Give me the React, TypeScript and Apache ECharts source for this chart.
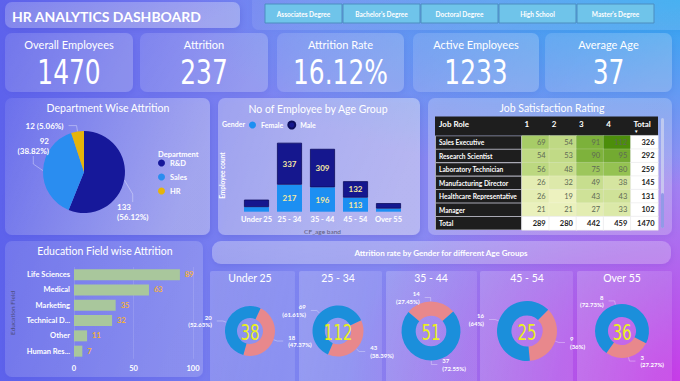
import React, { useEffect, useRef } from 'react';
import * as echarts from 'echarts';

// ---------- data ----------
const kpiLabels = ['Overall Employees', 'Attrition', 'Attrition Rate', 'Active Employees', 'Average Age'];
const kpiValues = ['1470', '237', '16.12%', '1233', '37'];
const degreeButtons = ['Associates Degree', "Bachelor's Degree", 'Doctoral Degree', 'High School', "Master's Degree"];

const departments = ['R&D', 'Sales', 'HR'];
const deptAttrition = [133, 92, 12];

const ageBands = ['Under 25', '25 - 34', '35 - 44', '45 - 54', 'Over 55'];
const femaleCounts = [37, 217, 196, 113, 25];
const maleCounts = [60, 337, 309, 132, 44];

const jobRoles = ['Sales Executive', 'Research Scientist', 'Laboratory Technician', 'Manufacturing Director', 'Healthcare Representative', 'Manager'];
const ratingLevels = ['1', '2', '3', '4'];
const satisfactionByRole = [
  [69, 54, 91, 112],
  [54, 53, 90, 95],
  [56, 48, 75, 80],
  [26, 32, 49, 38],
  [26, 19, 43, 43],
  [21, 21, 27, 33],
];
const roleTotals = [326, 292, 259, 145, 131, 102];
const ratingTotals = [289, 280, 442, 459];
const grandTotal = 1470;

const eduFields = ['Life Sciences', 'Medical', 'Marketing', 'Technical Degree', 'Other', 'Human Resources'];
const eduAttrition = [89, 63, 35, 32, 11, 7];

const maleAttrition = [20, 69, 37, 16, 8];
const femaleAttrition = [18, 43, 14, 9, 3];
const donutTotals = ['38', '112', '51', '25', '36'];

// ---------- style / layout ----------
const FONT = "Lato, 'Noto Sans', sans-serif";
const NUM = "'Liberation Sans Narrow', 'DejaVu Sans Condensed', 'Roboto Condensed', Roboto, sans-serif";
const BG =
  'radial-gradient(110% 75% at 100% 0%, rgba(44,168,242,1) 0%, rgba(44,168,242,0) 65%),' +
  'radial-gradient(70% 85% at 100% 100%, rgba(200,60,232,1) 0%, rgba(200,60,232,0) 70%),' +
  'linear-gradient(90deg, #5d62ec 0%, #8188f3 45%, #9c8cf4 100%)';

const kpiX = [5, 140, 277, 413, 545];
const kpiW = [128, 128, 127, 126, 127];
const donutCx = [250, 338, 431, 527, 622];
const donutR = [25, 25.5, 29.5, 30, 27];
const donutStart = [65, 25, 140, 45, -27];
const cardX = [210, 299, 386, 480, 577];
const cardW = [85, 83, 91, 93, 95];

function panelFill(a1: number, a2: number) {
  return {
    type: 'linear', x: 0, y: 0, x2: 1, y2: 0.3,
    colorStops: [
      { offset: 0, color: `rgba(255,255,255,${a1})` },
      { offset: 1, color: `rgba(255,255,255,${a2})` },
    ],
  };
}
const shadow = { shadowBlur: 6, shadowColor: 'rgba(40,20,120,0.35)', shadowOffsetX: 1, shadowOffsetY: 2 };

function rect(x: number, y: number, w: number, h: number, fill: any, r = 7, extra: any = {}) {
  return { type: 'rect', shape: { x, y, width: w, height: h, r }, style: { fill, ...shadow, ...extra }, silent: true };
}
function text(x: number, y: number, t: string, size: number, color = '#fff', weight: any = 'normal', align = 'center', family = FONT) {
  return {
    type: 'text', x, y, silent: true,
    style: { text: t, fill: color, fontSize: size, fontWeight: weight, fontFamily: family, align, verticalAlign: 'middle' },
  };
}

export default function App() {
  const ref = useRef<HTMLDivElement>(null);
  useEffect(() => {
    const chart = echarts.init(ref.current!, undefined, { renderer: 'svg', width: 680, height: 381 });

    const graphics: any[] = [];
    // title & slicer
    graphics.push(rect(5, 2, 235, 26, panelFill(0.2, 0.3)));
    graphics.push(text(12, 16, 'HR ANALYTICS DASHBOARD', 14, '#fff', 'bold', 'left'));
    graphics.push(rect(252, -8, 440, 38, panelFill(0.06, 0.12)));
    degreeButtons.forEach((b, i) => {
      graphics.push({
        type: 'rect', silent: true,
        shape: { x: 265 + i * 78, y: 4, width: 77, height: 19, r: 0 },
        style: { fill: '#6fc4ea', stroke: '#4c8dc0', lineWidth: 1 },
      });
      graphics.push(text(265 + i * 78 + 38.5, 14, b, 6.5, '#fff', 'bold'));
    });
    // KPI cards
    kpiLabels.forEach((l, i) => {
      graphics.push(rect(kpiX[i], 33, kpiW[i], 59, panelFill(0.12, 0.2)));
      graphics.push(text(kpiX[i] + kpiW[i] / 2, 44, l, 11));
      graphics.push({ ...text(kpiX[i] + kpiW[i] / 2, 73, kpiValues[i], 33, '#fff', 'normal', 'center', NUM), scaleX: 0.84 });
    });
    // middle panels
    graphics.push(rect(5, 98, 205, 137, panelFill(0.08, 0.32)));
    graphics.push(text(108, 108, 'Department Wise Attrition', 10.5));
    graphics.push(text(158, 154, 'Department', 7.5, '#fff', 'bold', 'left'));
    graphics.push(rect(218, 98, 202, 137, panelFill(0.28, 0.38)));
    graphics.push(text(318, 109, 'No of Employee by Age Group', 10.5));
    graphics.push(text(222, 124, 'Gender', 7, '#fff', 'bold', 'left'));
    graphics.push(rect(428, 98, 244, 137, panelFill(0.22, 0.2)));
    graphics.push(text(552, 108, 'Job Satisfaction Rating', 10.5));
    graphics.push({ type: 'rect', silent: true, shape: { x: 435, y: 116.5, width: 223, height: 19.2 }, style: { fill: '#1e1e1e' } });
    graphics.push({ type: 'rect', silent: true, shape: { x: 435, y: 135.7, width: 87, height: 94.3 }, style: { fill: '#a9a9b4' } });
    graphics.push(text(439, 124, 'Job Role', 8, '#fff', 'bold', 'left'));
    graphics.push(text(634, 131.5, '▼', 4.5, '#fff', 'normal', 'left'));
    graphics.push({ type: 'rect', silent: true, shape: { x: 661, y: 118, width: 3, height: 110, r: 1.5 }, style: { fill: 'rgba(210,215,240,0.7)' } });
    graphics.push({ type: 'rect', silent: true, shape: { x: 661, y: 193, width: 3, height: 35, r: 1.5 }, style: { fill: 'rgba(140,150,230,0.9)' } });
    // bottom panels
    graphics.push(rect(5, 241, 198, 136, panelFill(0.12, 0.16)));
    graphics.push(text(105, 251, 'Education Field wise Attrition', 10.5));
    graphics.push(rect(212, 241, 459, 23, panelFill(0.3, 0.22), 9));
    graphics.push(text(441, 252.5, 'Attrition rate by Gender for different Age Groups', 8, '#fff', 'bold'));
    ageBands.forEach((a, i) => {
      graphics.push(rect(cardX[i], 271, cardW[i], 120, panelFill(0.18, 0.1), 2));
      graphics.push(text(donutCx[i], 277.5, a, 10.5));
    });
    donutTotals.forEach((t, i) => {
      graphics.push({ ...text(donutCx[i], 332, t, 21, '#e9f01e', 'normal', 'center', NUM), z: 100, scaleX: 0.8 });
    });

    const heatCells: any[] = [];
    satisfactionByRole.forEach((row, r) => row.forEach((v, c) => heatCells.push([c, r, v])));
    const totalCells: any[] = [];
    roleTotals.forEach((v, r) => totalCells.push([4, r, v]));
    ratingTotals.forEach((v, c) => totalCells.push([c, jobRoles.length, v]));
    totalCells.push([4, jobRoles.length, grandTotal]);

    const donutSeries = ageBands.map((a, i) => ({
      type: 'pie',
      name: a,
      center: [donutCx[i], 331],
      radius: [donutR[i] * 0.52, donutR[i]],
      startAngle: donutStart[i],
      clockwise: true,
      avoidLabelOverlap: true,
      data: [
        { name: 'Female attrition', value: femaleAttrition[i], itemStyle: { color: '#e8888c' } },
        { name: 'Male attrition', value: maleAttrition[i], itemStyle: { color: '#1b8fdb' } },
      ],
      label: {
        show: true, formatter: '{c}\n({d}%)', color: '#fff', fontSize: 6, lineHeight: 7.5,
        fontFamily: FONT, fontWeight: 'bold', overflow: 'none',
      },
      labelLine: { show: true, length: 4, length2: 6, lineStyle: { color: 'rgba(255,255,255,0.55)', width: 0.6 } },
      emphasis: { disabled: true },
    }));

    const option: any = {
      animation: false,
      backgroundColor: 'transparent',
      textStyle: { fontFamily: FONT },
      graphic: { elements: graphics },
      legend: [
        {
          data: departments, orient: 'vertical', left: 158, top: 159, itemGap: 6, padding: 0,
          icon: 'circle', itemWidth: 7, itemHeight: 7,
          textStyle: { color: '#fff', fontSize: 7.5, fontWeight: 'bold', fontFamily: FONT },
        },
        {
          data: ['Female', 'Male'], left: 249, top: 120.5, itemGap: 4, padding: 0,
          icon: 'circle', itemWidth: 7, itemHeight: 7,
          textStyle: { color: '#fff', fontSize: 7, fontWeight: 'bold', fontFamily: FONT },
        },
      ],
      visualMap: [
        {
          show: false, seriesIndex: 3, dimension: 2, min: 19, max: 112,
          inRange: { color: ['#edf2bf', '#c6dd8c', '#93c150', '#4c8e0b'] },
        },
        {
          show: false, seriesIndex: 4, dimension: 2, min: 0, max: 2000,
          inRange: { color: ['#ffffff', '#ffffff'] },
        },
      ],
      grid: [
        { left: 240, width: 165, top: 139.5, height: 72.2 },
        { left: 522, width: 136, top: 135.7, height: 94.3 },
        { left: 74, width: 119, top: 267, height: 91.8 },
      ],
      xAxis: [
        {
          gridIndex: 0, type: 'category', data: ageBands,
          axisLine: { show: false }, axisTick: { show: false },
          axisLabel: { color: '#fff', fontSize: 7.5, fontWeight: 'bold', margin: 4, interval: 0 },
          name: 'CF_age band', nameLocation: 'middle', nameGap: 16,
          nameTextStyle: { color: '#5a5a7a', fontSize: 6.5 },
        },
        {
          gridIndex: 1, type: 'category', data: [...ratingLevels, 'Total'], position: 'top',
          axisLine: { show: false }, axisTick: { show: false }, splitLine: { show: false },
          axisLabel: {
            interval: 0, margin: 8, formatter: '{h|{value}}',
            rich: { h: { width: 22, align: 'left', color: '#fff', fontWeight: 'bold', fontSize: 8, fontFamily: FONT } },
          },
        },
        {
          gridIndex: 2, type: 'value', min: 0, max: 100, interval: 50,
          axisLine: { show: false }, axisTick: { show: false },
          splitLine: { show: true, lineStyle: { color: 'rgba(255,255,255,0.12)' } },
          axisLabel: { color: '#fff', fontSize: 7.5, fontWeight: 'bold', margin: 6 },
        },
      ],
      yAxis: [
        {
          gridIndex: 0, type: 'value', min: 0, max: 580,
          axisLabel: { show: false }, splitLine: { show: false }, axisLine: { show: false }, axisTick: { show: false },
          name: 'Employee count', nameLocation: 'middle', nameGap: 14, nameRotate: 90,
          nameTextStyle: { color: '#fff', fontSize: 6.5, fontWeight: 'bold' },
        },
        {
          gridIndex: 1, type: 'category', data: [...jobRoles, 'Total'], inverse: true,
          axisLine: { show: false }, axisTick: { show: false }, splitLine: { show: false },
          axisLabel: {
            interval: 0, align: 'left', margin: 86, color: '#fff', fontWeight: 'bold', fontSize: 6.6, fontFamily: FONT,
            backgroundColor: '#1e1e1e', width: 82, height: 12.4, lineHeight: 12.4, padding: [0, 0, 0, 3],
          },
        },
        {
          gridIndex: 2, type: 'category', data: eduFields, inverse: true,
          axisLine: { show: false }, axisTick: { show: false },
          axisLabel: { interval: 0, color: '#fff', fontSize: 7.5, fontWeight: 'bold', margin: 4, width: 47, overflow: 'truncate', ellipsis: '...' },
          name: 'Education Field', nameLocation: 'middle', nameGap: 58, nameRotate: 90,
          nameTextStyle: { color: '#4e4e80', fontSize: 6.5 },
        },
      ],
      series: [
        {
          type: 'pie', name: 'Department', center: [84, 172], radius: 41, startAngle: 90, clockwise: true,
          data: departments.map((d, i) => ({ name: d, value: deptAttrition[i] })),
          color: ['#16189a', '#2a8df0', '#e6b40a'],
          label: {
            show: true, color: '#fff', fontSize: 8, fontWeight: 'bold', lineHeight: 10, fontFamily: FONT, overflow: 'none',
            formatter: (p: any) => (p.value < 50 ? `${p.value} (${p.percent}%)` : `${p.value}\n(${p.percent}%)`),
          },
          labelLine: { show: true, length: 6, length2: 8, lineStyle: { color: 'rgba(255,255,255,0.5)', width: 0.7 } },
          labelLayout: (p: any) => {
            if (p.dataIndex === 0) return { x: 117, y: 212, align: 'left', verticalAlign: 'middle' };
            if (p.dataIndex === 1) return { x: 49, y: 146, align: 'right', verticalAlign: 'middle' };
            return {};
          },
          emphasis: { disabled: true },
        },
        {
          type: 'bar', name: 'Female', xAxisIndex: 0, yAxisIndex: 0, stack: 'age', barWidth: 25,
          data: femaleCounts, itemStyle: { color: '#1c8ff2' },
          label: {
            show: true, position: 'inside', color: '#f4e8a2', fontSize: 8, fontWeight: 'bold',
            formatter: (p: any) => (p.value >= 100 ? String(p.value) : ''),
          },
        },
        {
          type: 'bar', name: 'Male', xAxisIndex: 0, yAxisIndex: 0, stack: 'age', barWidth: 25,
          data: maleCounts, itemStyle: { color: '#15178e', borderColor: '#0c0d5e', borderWidth: 0.8 },
          label: {
            show: true, position: 'inside', color: '#f4e8a2', fontSize: 8, fontWeight: 'bold',
            formatter: (p: any) => (p.value >= 100 ? String(p.value) : ''),
          },
        },
        {
          type: 'heatmap', xAxisIndex: 1, yAxisIndex: 1, data: heatCells,
          itemStyle: { borderColor: 'rgba(255,255,255,0.35)', borderWidth: 0.5 },
          label: { show: true, position: 'insideRight', distance: 4, color: '#5f6a55', fontSize: 7.5, fontFamily: FONT },
          emphasis: { disabled: true },
        },
        {
          type: 'heatmap', xAxisIndex: 1, yAxisIndex: 1, data: totalCells,
          itemStyle: { borderColor: '#e4e4e4', borderWidth: 0.5 },
          label: { show: true, position: 'insideRight', distance: 4, color: '#222', fontSize: 7.5, fontWeight: 'bold', fontFamily: FONT },
          emphasis: { disabled: true },
        },
        {
          type: 'bar', name: 'Education', xAxisIndex: 2, yAxisIndex: 2, barWidth: 11,
          data: eduAttrition, itemStyle: { color: '#a9c79c' },
          label: { show: true, position: 'right', distance: 5, color: '#f2b13a', fontSize: 7.5, fontWeight: 'bold' },
        },
        ...donutSeries,
      ],
    };
    chart.setOption(option);
    return () => chart.dispose();
  }, []);

  return (
    <div style={{ position: 'fixed', left: 0, top: 0, width: 680, height: 381, background: BG, overflow: 'hidden' }}>
      <div ref={ref} style={{ width: 680, height: 381 }} />
    </div>
  );
}
